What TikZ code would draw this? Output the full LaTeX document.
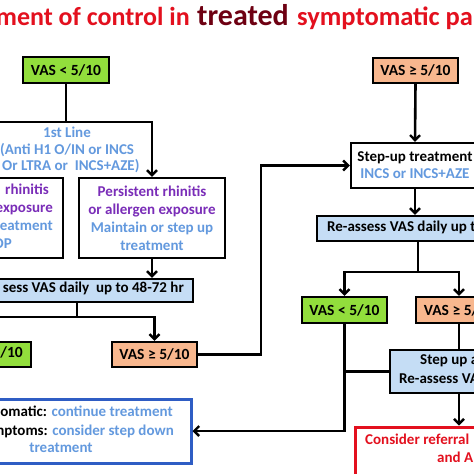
\documentclass[tikz,border=0pt]{standalone}
\usepackage{fontspec}
\setmainfont{Carlito}
\usetikzlibrary{arrows.meta}
\definecolor{tred}{HTML}{E3101E}
\definecolor{dred}{HTML}{6E0012}
\definecolor{gfill}{HTML}{92DE3C}
\definecolor{ofill}{HTML}{F8B78E}
\definecolor{bfill}{HTML}{C5DDF5}
\definecolor{btxt}{HTML}{6399DE}
\definecolor{ptxt}{HTML}{7A2DB8}
\definecolor{bbord}{HTML}{2F5DC4}
\begin{document}
\begin{tikzpicture}[x=1pt,y=-1pt,
  bx/.style={draw=black, line width=2.4pt, inner sep=0pt, align=center,
    font=\bfseries\fontsize{15}{17}\selectfont},
  vas/.style={bx, font=\bfseries\fontsize{15.5}{17}\selectfont},
  tx/.style={inner sep=0pt, font=\bfseries\fontsize{15}{17}\selectfont},
  conn/.style={line width=2.6pt},
  arr/.style={conn, -{Straight Barb[length=5pt,width=10pt,line width=2.4pt]}}]
\useasboundingbox (0,0) rectangle (474,474);
\clip (0,0) rectangle (474,474);
\fill[white] (0,0) rectangle (474,474);

% title
\node[inner sep=0pt, anchor=base east, text=tred, font=\bfseries\fontsize{26}{30}\selectfont] (t1) at (190,25) {ment of control in};
\node[inner sep=0pt, anchor=base west, text=dred, font=\bfseries\fontsize{30}{34}\selectfont] (t2) at (197,25) {treated};
\node[inner sep=0pt, anchor=base west, text=tred, font=\bfseries\fontsize{26.5}{30}\selectfont] (t3) at (297,25) {symptomatic pa};

% left column
\node[vas, fill=gfill, minimum width=86pt, minimum height=26pt] (g1) at (66,70) {VAS < 5/10};
\node[tx, text=btxt, anchor=mid] (fl1) at (67,135) {1st Line};
\node[tx, text=btxt, anchor=mid west] (fl2) at (0,152) {(Anti H1 O/IN or INCS};
\node[tx, text=btxt, anchor=mid west] (fl3) at (2,168) {Or LTRA or\ \ INCS+AZE)};

\node[bx, minimum width=146pt, minimum height=80pt] (lb) at (-10,218) {};
\node[tx, text=ptxt, anchor=mid east] (lb1) at (49,192) {rhinitis};
\node[tx, text=ptxt, anchor=mid east] (lb2) at (53,210) {exposure};
\node[tx, text=btxt, anchor=mid east] (lb3) at (53,228) {eatment};
\node[tx, text=btxt, anchor=mid east] (lb4) at (12,246) {OP};

\node[bx, fill=white, minimum width=146pt, minimum height=80pt] (pb) at (152,218)
  {\textcolor{ptxt}{Persistent rhinitis}\\[1pt]\textcolor{ptxt}{or allergen exposure}\\[1pt]
   \textcolor{btxt}{Maintain or step up}\\[1pt]\textcolor{btxt}{treatment}};

\node[bx, fill=bfill, minimum width=232pt, minimum height=23pt] (rb1) at (77,290.5) {};
\node[tx, anchor=mid east] (rb1t) at (184,290) {sess VAS daily\ \ up to 48-72 hr};

\node[vas, fill=gfill, minimum width=86pt, minimum height=25pt] (g2) at (-12,354.5) {};
\node[tx, anchor=mid east, font=\bfseries\fontsize{15.5}{17}\selectfont] (g2t) at (23,355) {/10};
\node[vas, fill=ofill, minimum width=85pt, minimum height=25pt] (o2) at (154.5,354.5) {VAS ≥ 5/10};

\node[bx, draw=bbord, line width=3pt, minimum width=260pt, minimum height=64pt] (bb) at (61,431) {};
\node[tx, anchor=mid east] (bb1) at (173,414) {omatic: \textcolor{btxt}{continue treatment}};
\node[tx, anchor=mid east] (bb2) at (174,433) {nptoms: \textcolor{btxt}{consider step down}};
\node[tx, text=btxt, anchor=mid] (bb3) at (61,450) {treatment};

% right column
\node[vas, fill=ofill, minimum width=85pt, minimum height=25pt] (o1) at (415.5,70.5) {VAS ≥ 5/10};
\node[bx, fill=white, minimum width=128pt, minimum height=45pt] (su) at (415,165.5)
  {Step-up treatment\\\textcolor{btxt}{INCS or INCS+AZE}};
\node[bx, fill=bfill, minimum width=202pt, minimum height=25pt] (rb2) at (418,228.5) {};
\node[tx, anchor=mid west] (rb2t) at (327,229) {Re-assess VAS daily up to 48-72 hr};

\node[vas, fill=gfill, minimum width=85pt, minimum height=26pt] (g3) at (344.5,310) {VAS < 5/10};
\node[vas, fill=ofill, minimum width=86pt, minimum height=26pt] (o3) at (459,310) {VAS ≥ 5/10};

\node[bx, fill=bfill, minimum width=138pt, minimum height=43pt] (sb) at (459,371.5) {};
\node[tx, anchor=mid west] (sb1) at (420,362) {Step up a};
\node[tx, anchor=mid west] (sb2) at (399,381) {Re-assess VA};

\node[bx, draw=tred, line width=3pt, minimum width=208pt, minimum height=50pt] (rr) at (459,452) {};
\node[tx, text=tred, anchor=mid west] (rr1) at (365,442) {Consider referral};
\node[tx, text=tred, anchor=mid west] (rr2) at (437,460) {and A};

% connectors
\coordinate (j1) at (66,122);
\draw[conn] (g1.south) -- (j1);
\draw[arr] (j1) -| (pb.north);
\draw[arr] (j1) -| (lb.north);
\draw[arr] (pb.south) -- (pb.south |- rb1.north);
\coordinate (j2) at (77,317);
\draw[conn] (rb1.south) -- (j2);
\draw[arr] (j2) -| (o2.north);
\draw[arr] (j2) -| (g2.north);
\coordinate (j3) at (261,354.5);
\draw[arr] (o2.east) -- (j3) |- (su.west);
\draw[arr] (o1.south) -- (su.north);
\draw[arr] (su.south) -- (su.south |- rb2.north);
\coordinate (j4) at (418,272);
\draw[conn] (rb2.south) -- (j4);
\draw[arr] (j4) -| (g3.north);
\draw[arr] (j4) -| (o3.north);
\draw[arr] (g3.south) |- (bb.east);
\draw[conn] (sb.west) -- (sb.west -| g3.south);
\draw[conn] (o3.south) -- (sb.north);
\draw[arr] (sb.south) -- (rr.north);
\end{tikzpicture}
\end{document}
